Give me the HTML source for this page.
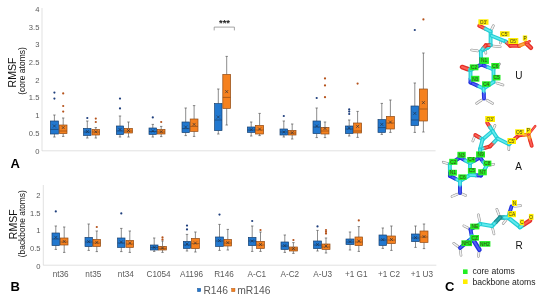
<!DOCTYPE html>
<html><head><meta charset="utf-8"><title>RMSF figure</title>
<style>html,body{margin:0;padding:0;background:#fff;}body{width:550px;height:300px;overflow:hidden;font-family:"Liberation Sans",sans-serif;}svg{display:block}</style>
</head><body>
<svg width="550" height="300" viewBox="0 0 550 300" font-family="Liberation Sans, Arial, sans-serif">
<rect width="550" height="300" fill="#fff"/>
<line x1="42" y1="8" x2="42" y2="151" stroke="#d9d9d9" stroke-width="0.8"/>
<line x1="42" y1="150.8" x2="435.6" y2="150.8" stroke="#d9d9d9" stroke-width="0.8"/>
<text x="39.4" y="153.5" font-size="7.6" fill="#595959" text-anchor="end">0</text>
<text x="39.4" y="135.8" font-size="7.6" fill="#595959" text-anchor="end">0.5</text>
<text x="39.4" y="118.1" font-size="7.6" fill="#595959" text-anchor="end">1</text>
<text x="39.4" y="100.4" font-size="7.6" fill="#595959" text-anchor="end">1.5</text>
<text x="39.4" y="82.7" font-size="7.6" fill="#595959" text-anchor="end">2</text>
<text x="39.4" y="65.0" font-size="7.6" fill="#595959" text-anchor="end">2.5</text>
<text x="39.4" y="47.3" font-size="7.6" fill="#595959" text-anchor="end">3</text>
<text x="39.4" y="29.6" font-size="7.6" fill="#595959" text-anchor="end">3.5</text>
<text x="39.4" y="11.9" font-size="7.6" fill="#595959" text-anchor="end">4</text>
<line x1="43.3" y1="185" x2="43.3" y2="265.3" stroke="#d9d9d9" stroke-width="0.8"/>
<line x1="43.3" y1="265.2" x2="436.3" y2="265.2" stroke="#d9d9d9" stroke-width="0.8"/>
<text x="40.6" y="268.7" font-size="7.6" fill="#595959" text-anchor="end">0</text>
<text x="40.6" y="251.0" font-size="7.6" fill="#595959" text-anchor="end">0.5</text>
<text x="40.6" y="233.3" font-size="7.6" fill="#595959" text-anchor="end">1</text>
<text x="40.6" y="215.6" font-size="7.6" fill="#595959" text-anchor="end">1.5</text>
<text x="40.6" y="197.9" font-size="7.6" fill="#595959" text-anchor="end">2</text>
<text transform="translate(16.3,72.5) rotate(-90)" font-size="10.5" fill="#111" text-anchor="middle">RMSF</text>
<text transform="translate(24.8,71) rotate(-90)" font-size="8.5" fill="#111" text-anchor="middle">(core atoms)</text>
<text transform="translate(16.5,224.3) rotate(-90)" font-size="10.5" fill="#111" text-anchor="middle">RMSF</text>
<text transform="translate(25.2,223.7) rotate(-90)" font-size="8.4" fill="#111" text-anchor="middle">(backbone atoms)</text>
<text x="10.6" y="168" font-size="13" font-weight="bold" fill="#000">A</text>
<text x="10.6" y="291" font-size="13" font-weight="bold" fill="#000">B</text>
<text x="445" y="291.4" font-size="13" font-weight="bold" fill="#000">C</text>
<path d="M214.2 30.4V27.1H234.4V30.4" fill="none" stroke="#7f7f7f" stroke-width="0.7"/>
<text x="224.5" y="26" font-size="9.5" font-weight="bold" fill="#222" text-anchor="middle">***</text>
<line x1="54.4" y1="115" x2="54.4" y2="121" stroke="#5a5a5a" stroke-width="0.7"/>
<line x1="54.4" y1="134" x2="54.4" y2="137" stroke="#5a5a5a" stroke-width="0.7"/>
<line x1="53.2" y1="115" x2="55.6" y2="115" stroke="#5a5a5a" stroke-width="0.7"/>
<line x1="53.2" y1="137" x2="55.6" y2="137" stroke="#5a5a5a" stroke-width="0.7"/>
<rect x="50.4" y="121" width="8.0" height="13.0" fill="#2278cf" stroke="#17406f" stroke-width="0.7"/>
<line x1="50.4" y1="129.4" x2="58.4" y2="129.4" stroke="#17406f" stroke-width="0.7"/>
<path d="M52.9 124.5L55.9 127.5M52.9 127.5L55.9 124.5" stroke="#1f2a3a" stroke-width="0.6" fill="none"/>
<circle cx="54.4" cy="92.6" r="1.1" fill="#1f3f7d"/>
<circle cx="54.4" cy="98.6" r="1.1" fill="#1f3f7d"/>
<line x1="63.2" y1="118" x2="63.2" y2="125" stroke="#5a5a5a" stroke-width="0.7"/>
<line x1="63.2" y1="133.6" x2="63.2" y2="136.4" stroke="#5a5a5a" stroke-width="0.7"/>
<line x1="62.0" y1="118" x2="64.4" y2="118" stroke="#5a5a5a" stroke-width="0.7"/>
<line x1="62.0" y1="136.4" x2="64.4" y2="136.4" stroke="#5a5a5a" stroke-width="0.7"/>
<rect x="59.4" y="125" width="7.6" height="8.6" fill="#f5811f" stroke="#8f4a16" stroke-width="0.7"/>
<line x1="59.4" y1="131" x2="67" y2="131" stroke="#8f4a16" stroke-width="0.7"/>
<path d="M61.7 126.1L64.7 129.1M61.7 129.1L64.7 126.1" stroke="#1f2a3a" stroke-width="0.6" fill="none"/>
<circle cx="63.2" cy="93.4" r="1.1" fill="#b5521b"/>
<circle cx="63.2" cy="106" r="1.1" fill="#b5521b"/>
<circle cx="63.2" cy="111.6" r="1.1" fill="#b5521b"/>
<line x1="87.3" y1="121" x2="87.3" y2="128.4" stroke="#5a5a5a" stroke-width="0.7"/>
<line x1="87.3" y1="135.4" x2="87.3" y2="138" stroke="#5a5a5a" stroke-width="0.7"/>
<line x1="86.1" y1="121" x2="88.5" y2="121" stroke="#5a5a5a" stroke-width="0.7"/>
<line x1="86.1" y1="138" x2="88.5" y2="138" stroke="#5a5a5a" stroke-width="0.7"/>
<rect x="83.6" y="128.4" width="7.4" height="7.0" fill="#2278cf" stroke="#17406f" stroke-width="0.7"/>
<line x1="83.6" y1="132" x2="91" y2="132" stroke="#17406f" stroke-width="0.7"/>
<path d="M85.8 130.0L88.8 133.0M85.8 133.0L88.8 130.0" stroke="#1f2a3a" stroke-width="0.6" fill="none"/>
<circle cx="87.3" cy="118" r="1.1" fill="#1f3f7d"/>
<line x1="95.8" y1="127.6" x2="95.8" y2="129.4" stroke="#5a5a5a" stroke-width="0.7"/>
<line x1="95.8" y1="135" x2="95.8" y2="138" stroke="#5a5a5a" stroke-width="0.7"/>
<line x1="94.6" y1="127.6" x2="97.0" y2="127.6" stroke="#5a5a5a" stroke-width="0.7"/>
<line x1="94.6" y1="138" x2="97.0" y2="138" stroke="#5a5a5a" stroke-width="0.7"/>
<rect x="92" y="129.4" width="7.6" height="5.6" fill="#f5811f" stroke="#8f4a16" stroke-width="0.7"/>
<line x1="92" y1="132" x2="99.6" y2="132" stroke="#8f4a16" stroke-width="0.7"/>
<path d="M94.3 130.3L97.3 133.3M94.3 133.3L97.3 130.3" stroke="#1f2a3a" stroke-width="0.6" fill="none"/>
<circle cx="95.8" cy="118.6" r="1.1" fill="#b5521b"/>
<circle cx="95.8" cy="122" r="1.1" fill="#b5521b"/>
<line x1="120.0" y1="116" x2="120.0" y2="126" stroke="#5a5a5a" stroke-width="0.7"/>
<line x1="120.0" y1="134.6" x2="120.0" y2="137" stroke="#5a5a5a" stroke-width="0.7"/>
<line x1="118.8" y1="116" x2="121.2" y2="116" stroke="#5a5a5a" stroke-width="0.7"/>
<line x1="118.8" y1="137" x2="121.2" y2="137" stroke="#5a5a5a" stroke-width="0.7"/>
<rect x="116.4" y="126" width="7.2" height="8.6" fill="#2278cf" stroke="#17406f" stroke-width="0.7"/>
<line x1="116.4" y1="131" x2="123.6" y2="131" stroke="#17406f" stroke-width="0.7"/>
<path d="M118.5 128.0L121.5 131.0M118.5 131.0L121.5 128.0" stroke="#1f2a3a" stroke-width="0.6" fill="none"/>
<circle cx="120.0" cy="98.6" r="1.1" fill="#1f3f7d"/>
<circle cx="120.0" cy="108.4" r="1.1" fill="#1f3f7d"/>
<line x1="128.5" y1="122" x2="128.5" y2="128.4" stroke="#5a5a5a" stroke-width="0.7"/>
<line x1="128.5" y1="133" x2="128.5" y2="137" stroke="#5a5a5a" stroke-width="0.7"/>
<line x1="127.3" y1="122" x2="129.7" y2="122" stroke="#5a5a5a" stroke-width="0.7"/>
<line x1="127.3" y1="137" x2="129.7" y2="137" stroke="#5a5a5a" stroke-width="0.7"/>
<rect x="124.6" y="128.4" width="7.8" height="4.6" fill="#f5811f" stroke="#8f4a16" stroke-width="0.7"/>
<line x1="124.6" y1="131" x2="132.4" y2="131" stroke="#8f4a16" stroke-width="0.7"/>
<path d="M127.0 129.0L130.0 132.0M127.0 132.0L130.0 129.0" stroke="#1f2a3a" stroke-width="0.6" fill="none"/>
<line x1="152.8" y1="124.4" x2="152.8" y2="128" stroke="#5a5a5a" stroke-width="0.7"/>
<line x1="152.8" y1="134.4" x2="152.8" y2="137" stroke="#5a5a5a" stroke-width="0.7"/>
<line x1="151.6" y1="124.4" x2="154.0" y2="124.4" stroke="#5a5a5a" stroke-width="0.7"/>
<line x1="151.6" y1="137" x2="154.0" y2="137" stroke="#5a5a5a" stroke-width="0.7"/>
<rect x="149" y="128" width="7.6" height="6.4" fill="#2278cf" stroke="#17406f" stroke-width="0.7"/>
<line x1="149" y1="131.5" x2="156.6" y2="131.5" stroke="#17406f" stroke-width="0.7"/>
<path d="M151.3 129.5L154.3 132.5M151.3 132.5L154.3 129.5" stroke="#1f2a3a" stroke-width="0.6" fill="none"/>
<circle cx="152.8" cy="117.4" r="1.1" fill="#1f3f7d"/>
<line x1="161.2" y1="126.4" x2="161.2" y2="129.4" stroke="#5a5a5a" stroke-width="0.7"/>
<line x1="161.2" y1="134" x2="161.2" y2="136.6" stroke="#5a5a5a" stroke-width="0.7"/>
<line x1="160.0" y1="126.4" x2="162.4" y2="126.4" stroke="#5a5a5a" stroke-width="0.7"/>
<line x1="160.0" y1="136.6" x2="162.4" y2="136.6" stroke="#5a5a5a" stroke-width="0.7"/>
<rect x="157.4" y="129.4" width="7.6" height="4.6" fill="#f5811f" stroke="#8f4a16" stroke-width="0.7"/>
<line x1="157.4" y1="132" x2="165" y2="132" stroke="#8f4a16" stroke-width="0.7"/>
<path d="M159.7 130.1L162.7 133.1M159.7 133.1L162.7 130.1" stroke="#1f2a3a" stroke-width="0.6" fill="none"/>
<circle cx="161.2" cy="122" r="1.1" fill="#b5521b"/>
<line x1="185.7" y1="108" x2="185.7" y2="122" stroke="#5a5a5a" stroke-width="0.7"/>
<line x1="185.7" y1="132.6" x2="185.7" y2="135.6" stroke="#5a5a5a" stroke-width="0.7"/>
<line x1="184.5" y1="108" x2="186.9" y2="108" stroke="#5a5a5a" stroke-width="0.7"/>
<line x1="184.5" y1="135.6" x2="186.9" y2="135.6" stroke="#5a5a5a" stroke-width="0.7"/>
<rect x="182" y="122" width="7.4" height="10.6" fill="#2278cf" stroke="#17406f" stroke-width="0.7"/>
<line x1="182" y1="128.6" x2="189.4" y2="128.6" stroke="#17406f" stroke-width="0.7"/>
<path d="M184.2 125.5L187.2 128.5M184.2 128.5L187.2 125.5" stroke="#1f2a3a" stroke-width="0.6" fill="none"/>
<line x1="194.1" y1="105.6" x2="194.1" y2="119" stroke="#5a5a5a" stroke-width="0.7"/>
<line x1="194.1" y1="131.4" x2="194.1" y2="136.4" stroke="#5a5a5a" stroke-width="0.7"/>
<line x1="192.9" y1="105.6" x2="195.3" y2="105.6" stroke="#5a5a5a" stroke-width="0.7"/>
<line x1="192.9" y1="136.4" x2="195.3" y2="136.4" stroke="#5a5a5a" stroke-width="0.7"/>
<rect x="190.2" y="119" width="7.8" height="12.4" fill="#f5811f" stroke="#8f4a16" stroke-width="0.7"/>
<line x1="190.2" y1="126.4" x2="198" y2="126.4" stroke="#8f4a16" stroke-width="0.7"/>
<path d="M192.6 122.9L195.6 125.9M192.6 125.9L195.6 122.9" stroke="#1f2a3a" stroke-width="0.6" fill="none"/>
<line x1="218.3" y1="89" x2="218.3" y2="103.6" stroke="#5a5a5a" stroke-width="0.7"/>
<line x1="218.3" y1="130.6" x2="218.3" y2="134" stroke="#5a5a5a" stroke-width="0.7"/>
<line x1="217.1" y1="89" x2="219.5" y2="89" stroke="#5a5a5a" stroke-width="0.7"/>
<line x1="217.1" y1="134" x2="219.5" y2="134" stroke="#5a5a5a" stroke-width="0.7"/>
<rect x="214.6" y="103.6" width="7.4" height="27.0" fill="#2278cf" stroke="#17406f" stroke-width="0.7"/>
<line x1="214.6" y1="120" x2="222" y2="120" stroke="#17406f" stroke-width="0.7"/>
<path d="M216.8 115.5L219.8 118.5M216.8 118.5L219.8 115.5" stroke="#1f2a3a" stroke-width="0.6" fill="none"/>
<line x1="226.7" y1="56.4" x2="226.7" y2="74.4" stroke="#5a5a5a" stroke-width="0.7"/>
<line x1="226.7" y1="108.4" x2="226.7" y2="125" stroke="#5a5a5a" stroke-width="0.7"/>
<line x1="225.5" y1="56.4" x2="227.9" y2="56.4" stroke="#5a5a5a" stroke-width="0.7"/>
<line x1="225.5" y1="125" x2="227.9" y2="125" stroke="#5a5a5a" stroke-width="0.7"/>
<rect x="222.8" y="74.4" width="7.8" height="34.0" fill="#f5811f" stroke="#8f4a16" stroke-width="0.7"/>
<line x1="222.8" y1="97.4" x2="230.6" y2="97.4" stroke="#8f4a16" stroke-width="0.7"/>
<path d="M225.2 90.1L228.2 93.1M225.2 93.1L228.2 90.1" stroke="#1f2a3a" stroke-width="0.6" fill="none"/>
<line x1="251.2" y1="122" x2="251.2" y2="127" stroke="#5a5a5a" stroke-width="0.7"/>
<line x1="251.2" y1="132.4" x2="251.2" y2="136" stroke="#5a5a5a" stroke-width="0.7"/>
<line x1="250.0" y1="122" x2="252.4" y2="122" stroke="#5a5a5a" stroke-width="0.7"/>
<line x1="250.0" y1="136" x2="252.4" y2="136" stroke="#5a5a5a" stroke-width="0.7"/>
<rect x="247.4" y="127" width="7.6" height="5.4" fill="#2278cf" stroke="#17406f" stroke-width="0.7"/>
<line x1="247.4" y1="130" x2="255" y2="130" stroke="#17406f" stroke-width="0.7"/>
<path d="M249.7 128.1L252.7 131.1M249.7 131.1L252.7 128.1" stroke="#1f2a3a" stroke-width="0.6" fill="none"/>
<line x1="259.6" y1="113.4" x2="259.6" y2="125.4" stroke="#5a5a5a" stroke-width="0.7"/>
<line x1="259.6" y1="134" x2="259.6" y2="135.6" stroke="#5a5a5a" stroke-width="0.7"/>
<line x1="258.4" y1="113.4" x2="260.8" y2="113.4" stroke="#5a5a5a" stroke-width="0.7"/>
<line x1="258.4" y1="135.6" x2="260.8" y2="135.6" stroke="#5a5a5a" stroke-width="0.7"/>
<rect x="255.6" y="125.4" width="8.0" height="8.6" fill="#f5811f" stroke="#8f4a16" stroke-width="0.7"/>
<line x1="255.6" y1="130" x2="263.6" y2="130" stroke="#8f4a16" stroke-width="0.7"/>
<path d="M258.1 127.5L261.1 130.5M258.1 130.5L261.1 127.5" stroke="#1f2a3a" stroke-width="0.6" fill="none"/>
<line x1="283.8" y1="121" x2="283.8" y2="129" stroke="#5a5a5a" stroke-width="0.7"/>
<line x1="283.8" y1="135" x2="283.8" y2="137" stroke="#5a5a5a" stroke-width="0.7"/>
<line x1="282.6" y1="121" x2="285.0" y2="121" stroke="#5a5a5a" stroke-width="0.7"/>
<line x1="282.6" y1="137" x2="285.0" y2="137" stroke="#5a5a5a" stroke-width="0.7"/>
<rect x="280" y="129" width="7.6" height="6.0" fill="#2278cf" stroke="#17406f" stroke-width="0.7"/>
<line x1="280" y1="132" x2="287.6" y2="132" stroke="#17406f" stroke-width="0.7"/>
<path d="M282.3 130.5L285.3 133.5M282.3 133.5L285.3 130.5" stroke="#1f2a3a" stroke-width="0.6" fill="none"/>
<circle cx="283.8" cy="116" r="1.1" fill="#1f3f7d"/>
<line x1="292.2" y1="124" x2="292.2" y2="130.4" stroke="#5a5a5a" stroke-width="0.7"/>
<line x1="292.2" y1="135" x2="292.2" y2="139" stroke="#5a5a5a" stroke-width="0.7"/>
<line x1="291.0" y1="124" x2="293.4" y2="124" stroke="#5a5a5a" stroke-width="0.7"/>
<line x1="291.0" y1="139" x2="293.4" y2="139" stroke="#5a5a5a" stroke-width="0.7"/>
<rect x="288.4" y="130.4" width="7.6" height="4.6" fill="#f5811f" stroke="#8f4a16" stroke-width="0.7"/>
<line x1="288.4" y1="133" x2="296" y2="133" stroke="#8f4a16" stroke-width="0.7"/>
<path d="M290.7 131.1L293.7 134.1M290.7 134.1L293.7 131.1" stroke="#1f2a3a" stroke-width="0.6" fill="none"/>
<line x1="316.7" y1="108" x2="316.7" y2="121" stroke="#5a5a5a" stroke-width="0.7"/>
<line x1="316.7" y1="133.6" x2="316.7" y2="137.6" stroke="#5a5a5a" stroke-width="0.7"/>
<line x1="315.5" y1="108" x2="317.9" y2="108" stroke="#5a5a5a" stroke-width="0.7"/>
<line x1="315.5" y1="137.6" x2="317.9" y2="137.6" stroke="#5a5a5a" stroke-width="0.7"/>
<rect x="313" y="121" width="7.4" height="12.6" fill="#2278cf" stroke="#17406f" stroke-width="0.7"/>
<line x1="313" y1="127" x2="320.4" y2="127" stroke="#17406f" stroke-width="0.7"/>
<path d="M315.2 124.5L318.2 127.5M315.2 127.5L318.2 124.5" stroke="#1f2a3a" stroke-width="0.6" fill="none"/>
<circle cx="316.7" cy="98" r="1.1" fill="#1f3f7d"/>
<line x1="325.0" y1="122" x2="325.0" y2="127.4" stroke="#5a5a5a" stroke-width="0.7"/>
<line x1="325.0" y1="134" x2="325.0" y2="137.6" stroke="#5a5a5a" stroke-width="0.7"/>
<line x1="323.8" y1="122" x2="326.2" y2="122" stroke="#5a5a5a" stroke-width="0.7"/>
<line x1="323.8" y1="137.6" x2="326.2" y2="137.6" stroke="#5a5a5a" stroke-width="0.7"/>
<rect x="321" y="127.4" width="8.0" height="6.6" fill="#f5811f" stroke="#8f4a16" stroke-width="0.7"/>
<line x1="321" y1="131" x2="329" y2="131" stroke="#8f4a16" stroke-width="0.7"/>
<path d="M323.5 127.0L326.5 130.0M323.5 130.0L326.5 127.0" stroke="#1f2a3a" stroke-width="0.6" fill="none"/>
<circle cx="325.0" cy="78.4" r="1.1" fill="#b5521b"/>
<circle cx="325.0" cy="85.4" r="1.1" fill="#b5521b"/>
<circle cx="325.0" cy="97.2" r="1.1" fill="#b5521b"/>
<line x1="349.2" y1="120" x2="349.2" y2="126" stroke="#5a5a5a" stroke-width="0.7"/>
<line x1="349.2" y1="133.6" x2="349.2" y2="136" stroke="#5a5a5a" stroke-width="0.7"/>
<line x1="348.0" y1="120" x2="350.4" y2="120" stroke="#5a5a5a" stroke-width="0.7"/>
<line x1="348.0" y1="136" x2="350.4" y2="136" stroke="#5a5a5a" stroke-width="0.7"/>
<rect x="345.4" y="126" width="7.6" height="7.6" fill="#2278cf" stroke="#17406f" stroke-width="0.7"/>
<line x1="345.4" y1="129" x2="353" y2="129" stroke="#17406f" stroke-width="0.7"/>
<path d="M347.7 126.5L350.7 129.5M347.7 129.5L350.7 126.5" stroke="#1f2a3a" stroke-width="0.6" fill="none"/>
<circle cx="349.2" cy="109.4" r="1.1" fill="#1f3f7d"/>
<circle cx="349.2" cy="111.6" r="1.1" fill="#1f3f7d"/>
<circle cx="349.2" cy="114" r="1.1" fill="#1f3f7d"/>
<line x1="357.6" y1="111.4" x2="357.6" y2="123" stroke="#5a5a5a" stroke-width="0.7"/>
<line x1="357.6" y1="133" x2="357.6" y2="137.4" stroke="#5a5a5a" stroke-width="0.7"/>
<line x1="356.4" y1="111.4" x2="358.8" y2="111.4" stroke="#5a5a5a" stroke-width="0.7"/>
<line x1="356.4" y1="137.4" x2="358.8" y2="137.4" stroke="#5a5a5a" stroke-width="0.7"/>
<rect x="353.6" y="123" width="8.0" height="10.0" fill="#f5811f" stroke="#8f4a16" stroke-width="0.7"/>
<line x1="353.6" y1="131" x2="361.6" y2="131" stroke="#8f4a16" stroke-width="0.7"/>
<path d="M356.1 124.9L359.1 127.9M356.1 127.9L359.1 124.9" stroke="#1f2a3a" stroke-width="0.6" fill="none"/>
<circle cx="357.6" cy="83.6" r="1.1" fill="#b5521b"/>
<line x1="381.8" y1="103.4" x2="381.8" y2="119.6" stroke="#5a5a5a" stroke-width="0.7"/>
<line x1="381.8" y1="132.4" x2="381.8" y2="134.4" stroke="#5a5a5a" stroke-width="0.7"/>
<line x1="380.6" y1="103.4" x2="383.0" y2="103.4" stroke="#5a5a5a" stroke-width="0.7"/>
<line x1="380.6" y1="134.4" x2="383.0" y2="134.4" stroke="#5a5a5a" stroke-width="0.7"/>
<rect x="378" y="119.6" width="7.6" height="12.8" fill="#2278cf" stroke="#17406f" stroke-width="0.7"/>
<line x1="378" y1="127.6" x2="385.6" y2="127.6" stroke="#17406f" stroke-width="0.7"/>
<path d="M380.3 122.9L383.3 125.9M380.3 125.9L383.3 122.9" stroke="#1f2a3a" stroke-width="0.6" fill="none"/>
<line x1="390.4" y1="100" x2="390.4" y2="116.4" stroke="#5a5a5a" stroke-width="0.7"/>
<line x1="390.4" y1="129" x2="390.4" y2="132.4" stroke="#5a5a5a" stroke-width="0.7"/>
<line x1="389.2" y1="100" x2="391.6" y2="100" stroke="#5a5a5a" stroke-width="0.7"/>
<line x1="389.2" y1="132.4" x2="391.6" y2="132.4" stroke="#5a5a5a" stroke-width="0.7"/>
<rect x="386.4" y="116.4" width="8.0" height="12.6" fill="#f5811f" stroke="#8f4a16" stroke-width="0.7"/>
<line x1="386.4" y1="123" x2="394.4" y2="123" stroke="#8f4a16" stroke-width="0.7"/>
<path d="M388.9 120.5L391.9 123.5M388.9 123.5L391.9 120.5" stroke="#1f2a3a" stroke-width="0.6" fill="none"/>
<line x1="414.8" y1="83" x2="414.8" y2="106" stroke="#5a5a5a" stroke-width="0.7"/>
<line x1="414.8" y1="125.6" x2="414.8" y2="132.4" stroke="#5a5a5a" stroke-width="0.7"/>
<line x1="413.6" y1="83" x2="416.0" y2="83" stroke="#5a5a5a" stroke-width="0.7"/>
<line x1="413.6" y1="132.4" x2="416.0" y2="132.4" stroke="#5a5a5a" stroke-width="0.7"/>
<rect x="411" y="106" width="7.6" height="19.6" fill="#2278cf" stroke="#17406f" stroke-width="0.7"/>
<line x1="411" y1="120" x2="418.6" y2="120" stroke="#17406f" stroke-width="0.7"/>
<path d="M413.3 111.9L416.3 114.9M413.3 114.9L416.3 111.9" stroke="#1f2a3a" stroke-width="0.6" fill="none"/>
<circle cx="414.8" cy="30" r="1.1" fill="#1f3f7d"/>
<line x1="423.4" y1="53" x2="423.4" y2="89" stroke="#5a5a5a" stroke-width="0.7"/>
<line x1="423.4" y1="121" x2="423.4" y2="132" stroke="#5a5a5a" stroke-width="0.7"/>
<line x1="422.2" y1="53" x2="424.6" y2="53" stroke="#5a5a5a" stroke-width="0.7"/>
<line x1="422.2" y1="132" x2="424.6" y2="132" stroke="#5a5a5a" stroke-width="0.7"/>
<rect x="419.4" y="89" width="8.0" height="32.0" fill="#f5811f" stroke="#8f4a16" stroke-width="0.7"/>
<line x1="419.4" y1="109" x2="427.4" y2="109" stroke="#8f4a16" stroke-width="0.7"/>
<path d="M421.9 101.1L424.9 104.1M421.9 104.1L424.9 101.1" stroke="#1f2a3a" stroke-width="0.6" fill="none"/>
<circle cx="423.4" cy="19.4" r="1.1" fill="#b5521b"/>
<line x1="55.8" y1="226" x2="55.8" y2="233" stroke="#5a5a5a" stroke-width="0.7"/>
<line x1="55.8" y1="245.6" x2="55.8" y2="249.4" stroke="#5a5a5a" stroke-width="0.7"/>
<line x1="54.6" y1="226" x2="57.0" y2="226" stroke="#5a5a5a" stroke-width="0.7"/>
<line x1="54.6" y1="249.4" x2="57.0" y2="249.4" stroke="#5a5a5a" stroke-width="0.7"/>
<rect x="52" y="233" width="7.6" height="12.6" fill="#2278cf" stroke="#17406f" stroke-width="0.7"/>
<line x1="52" y1="239" x2="59.6" y2="239" stroke="#17406f" stroke-width="0.7"/>
<path d="M54.3 235.9L57.3 238.9M54.3 238.9L57.3 235.9" stroke="#1f2a3a" stroke-width="0.6" fill="none"/>
<circle cx="55.8" cy="211.4" r="1.1" fill="#1f3f7d"/>
<line x1="64.2" y1="227" x2="64.2" y2="238" stroke="#5a5a5a" stroke-width="0.7"/>
<line x1="64.2" y1="245" x2="64.2" y2="252.4" stroke="#5a5a5a" stroke-width="0.7"/>
<line x1="63.0" y1="227" x2="65.4" y2="227" stroke="#5a5a5a" stroke-width="0.7"/>
<line x1="63.0" y1="252.4" x2="65.4" y2="252.4" stroke="#5a5a5a" stroke-width="0.7"/>
<rect x="60.4" y="238" width="7.6" height="7.0" fill="#f5811f" stroke="#8f4a16" stroke-width="0.7"/>
<line x1="60.4" y1="242" x2="68" y2="242" stroke="#8f4a16" stroke-width="0.7"/>
<path d="M62.7 239.9L65.7 242.9M62.7 242.9L65.7 239.9" stroke="#1f2a3a" stroke-width="0.6" fill="none"/>
<line x1="88.7" y1="224" x2="88.7" y2="237.4" stroke="#5a5a5a" stroke-width="0.7"/>
<line x1="88.7" y1="246.6" x2="88.7" y2="250.4" stroke="#5a5a5a" stroke-width="0.7"/>
<line x1="87.5" y1="224" x2="89.9" y2="224" stroke="#5a5a5a" stroke-width="0.7"/>
<line x1="87.5" y1="250.4" x2="89.9" y2="250.4" stroke="#5a5a5a" stroke-width="0.7"/>
<rect x="85" y="237.4" width="7.4" height="9.2" fill="#2278cf" stroke="#17406f" stroke-width="0.7"/>
<line x1="85" y1="242" x2="92.4" y2="242" stroke="#17406f" stroke-width="0.7"/>
<path d="M87.2 240.1L90.2 243.1M87.2 243.1L90.2 240.1" stroke="#1f2a3a" stroke-width="0.6" fill="none"/>
<line x1="96.8" y1="231" x2="96.8" y2="239.4" stroke="#5a5a5a" stroke-width="0.7"/>
<line x1="96.8" y1="246.4" x2="96.8" y2="251.6" stroke="#5a5a5a" stroke-width="0.7"/>
<line x1="95.6" y1="231" x2="98.0" y2="231" stroke="#5a5a5a" stroke-width="0.7"/>
<line x1="95.6" y1="251.6" x2="98.0" y2="251.6" stroke="#5a5a5a" stroke-width="0.7"/>
<rect x="93" y="239.4" width="7.6" height="7.0" fill="#f5811f" stroke="#8f4a16" stroke-width="0.7"/>
<line x1="93" y1="243" x2="100.6" y2="243" stroke="#8f4a16" stroke-width="0.7"/>
<path d="M95.3 240.9L98.3 243.9M95.3 243.9L98.3 240.9" stroke="#1f2a3a" stroke-width="0.6" fill="none"/>
<circle cx="96.8" cy="227" r="1.1" fill="#b5521b"/>
<line x1="121.3" y1="228.4" x2="121.3" y2="238" stroke="#5a5a5a" stroke-width="0.7"/>
<line x1="121.3" y1="247.4" x2="121.3" y2="251.6" stroke="#5a5a5a" stroke-width="0.7"/>
<line x1="120.1" y1="228.4" x2="122.5" y2="228.4" stroke="#5a5a5a" stroke-width="0.7"/>
<line x1="120.1" y1="251.6" x2="122.5" y2="251.6" stroke="#5a5a5a" stroke-width="0.7"/>
<rect x="117.6" y="238" width="7.4" height="9.4" fill="#2278cf" stroke="#17406f" stroke-width="0.7"/>
<line x1="117.6" y1="243" x2="125" y2="243" stroke="#17406f" stroke-width="0.7"/>
<path d="M119.8 240.5L122.8 243.5M119.8 243.5L122.8 240.5" stroke="#1f2a3a" stroke-width="0.6" fill="none"/>
<circle cx="121.3" cy="213.4" r="1.1" fill="#1f3f7d"/>
<line x1="129.8" y1="231" x2="129.8" y2="240.4" stroke="#5a5a5a" stroke-width="0.7"/>
<line x1="129.8" y1="247.4" x2="129.8" y2="252.4" stroke="#5a5a5a" stroke-width="0.7"/>
<line x1="128.6" y1="231" x2="131.0" y2="231" stroke="#5a5a5a" stroke-width="0.7"/>
<line x1="128.6" y1="252.4" x2="131.0" y2="252.4" stroke="#5a5a5a" stroke-width="0.7"/>
<rect x="126" y="240.4" width="7.6" height="7.0" fill="#f5811f" stroke="#8f4a16" stroke-width="0.7"/>
<line x1="126" y1="244" x2="133.6" y2="244" stroke="#8f4a16" stroke-width="0.7"/>
<path d="M128.3 241.5L131.3 244.5M128.3 244.5L131.3 241.5" stroke="#1f2a3a" stroke-width="0.6" fill="none"/>
<line x1="154.2" y1="238" x2="154.2" y2="245" stroke="#5a5a5a" stroke-width="0.7"/>
<line x1="154.2" y1="250" x2="154.2" y2="251.4" stroke="#5a5a5a" stroke-width="0.7"/>
<line x1="153.0" y1="238" x2="155.4" y2="238" stroke="#5a5a5a" stroke-width="0.7"/>
<line x1="153.0" y1="251.4" x2="155.4" y2="251.4" stroke="#5a5a5a" stroke-width="0.7"/>
<rect x="150.4" y="245" width="7.6" height="5.0" fill="#2278cf" stroke="#17406f" stroke-width="0.7"/>
<line x1="150.4" y1="247.6" x2="158" y2="247.6" stroke="#17406f" stroke-width="0.7"/>
<path d="M152.7 245.9L155.7 248.9M152.7 248.9L155.7 245.9" stroke="#1f2a3a" stroke-width="0.6" fill="none"/>
<line x1="162.5" y1="241" x2="162.5" y2="246.4" stroke="#5a5a5a" stroke-width="0.7"/>
<line x1="162.5" y1="250" x2="162.5" y2="252.4" stroke="#5a5a5a" stroke-width="0.7"/>
<line x1="161.3" y1="241" x2="163.7" y2="241" stroke="#5a5a5a" stroke-width="0.7"/>
<line x1="161.3" y1="252.4" x2="163.7" y2="252.4" stroke="#5a5a5a" stroke-width="0.7"/>
<rect x="158.6" y="246.4" width="7.8" height="3.6" fill="#f5811f" stroke="#8f4a16" stroke-width="0.7"/>
<line x1="158.6" y1="248.4" x2="166.4" y2="248.4" stroke="#8f4a16" stroke-width="0.7"/>
<path d="M161.0 246.5L164.0 249.5M161.0 249.5L164.0 246.5" stroke="#1f2a3a" stroke-width="0.6" fill="none"/>
<circle cx="162.5" cy="237.4" r="1.1" fill="#b5521b"/>
<circle cx="162.5" cy="239.6" r="1.1" fill="#b5521b"/>
<line x1="187.0" y1="234.4" x2="187.0" y2="241.4" stroke="#5a5a5a" stroke-width="0.7"/>
<line x1="187.0" y1="248.4" x2="187.0" y2="251" stroke="#5a5a5a" stroke-width="0.7"/>
<line x1="185.8" y1="234.4" x2="188.2" y2="234.4" stroke="#5a5a5a" stroke-width="0.7"/>
<line x1="185.8" y1="251" x2="188.2" y2="251" stroke="#5a5a5a" stroke-width="0.7"/>
<rect x="183.4" y="241.4" width="7.2" height="7.0" fill="#2278cf" stroke="#17406f" stroke-width="0.7"/>
<line x1="183.4" y1="245" x2="190.6" y2="245" stroke="#17406f" stroke-width="0.7"/>
<path d="M185.5 242.5L188.5 245.5M185.5 245.5L188.5 242.5" stroke="#1f2a3a" stroke-width="0.6" fill="none"/>
<circle cx="187.0" cy="225.6" r="1.1" fill="#1f3f7d"/>
<circle cx="187.0" cy="229.4" r="1.1" fill="#1f3f7d"/>
<line x1="195.4" y1="232" x2="195.4" y2="238.4" stroke="#5a5a5a" stroke-width="0.7"/>
<line x1="195.4" y1="248.6" x2="195.4" y2="252" stroke="#5a5a5a" stroke-width="0.7"/>
<line x1="194.2" y1="232" x2="196.6" y2="232" stroke="#5a5a5a" stroke-width="0.7"/>
<line x1="194.2" y1="252" x2="196.6" y2="252" stroke="#5a5a5a" stroke-width="0.7"/>
<rect x="191.4" y="238.4" width="8.0" height="10.2" fill="#f5811f" stroke="#8f4a16" stroke-width="0.7"/>
<line x1="191.4" y1="243.6" x2="199.4" y2="243.6" stroke="#8f4a16" stroke-width="0.7"/>
<path d="M193.9 241.5L196.9 244.5M193.9 244.5L196.9 241.5" stroke="#1f2a3a" stroke-width="0.6" fill="none"/>
<line x1="219.5" y1="224.4" x2="219.5" y2="237" stroke="#5a5a5a" stroke-width="0.7"/>
<line x1="219.5" y1="246.4" x2="219.5" y2="250.4" stroke="#5a5a5a" stroke-width="0.7"/>
<line x1="218.3" y1="224.4" x2="220.7" y2="224.4" stroke="#5a5a5a" stroke-width="0.7"/>
<line x1="218.3" y1="250.4" x2="220.7" y2="250.4" stroke="#5a5a5a" stroke-width="0.7"/>
<rect x="215.6" y="237" width="7.8" height="9.4" fill="#2278cf" stroke="#17406f" stroke-width="0.7"/>
<line x1="215.6" y1="241" x2="223.4" y2="241" stroke="#17406f" stroke-width="0.7"/>
<path d="M218.0 239.1L221.0 242.1M218.0 242.1L221.0 239.1" stroke="#1f2a3a" stroke-width="0.6" fill="none"/>
<circle cx="219.5" cy="214.6" r="1.1" fill="#1f3f7d"/>
<line x1="227.8" y1="229.4" x2="227.8" y2="239.4" stroke="#5a5a5a" stroke-width="0.7"/>
<line x1="227.8" y1="246" x2="227.8" y2="250" stroke="#5a5a5a" stroke-width="0.7"/>
<line x1="226.6" y1="229.4" x2="229.0" y2="229.4" stroke="#5a5a5a" stroke-width="0.7"/>
<line x1="226.6" y1="250" x2="229.0" y2="250" stroke="#5a5a5a" stroke-width="0.7"/>
<rect x="224" y="239.4" width="7.6" height="6.6" fill="#f5811f" stroke="#8f4a16" stroke-width="0.7"/>
<line x1="224" y1="243" x2="231.6" y2="243" stroke="#8f4a16" stroke-width="0.7"/>
<path d="M226.3 241.1L229.3 244.1M226.3 244.1L229.3 241.1" stroke="#1f2a3a" stroke-width="0.6" fill="none"/>
<line x1="252.2" y1="226" x2="252.2" y2="237.4" stroke="#5a5a5a" stroke-width="0.7"/>
<line x1="252.2" y1="245.6" x2="252.2" y2="251.4" stroke="#5a5a5a" stroke-width="0.7"/>
<line x1="251.0" y1="226" x2="253.4" y2="226" stroke="#5a5a5a" stroke-width="0.7"/>
<line x1="251.0" y1="251.4" x2="253.4" y2="251.4" stroke="#5a5a5a" stroke-width="0.7"/>
<rect x="248.4" y="237.4" width="7.6" height="8.2" fill="#2278cf" stroke="#17406f" stroke-width="0.7"/>
<line x1="248.4" y1="241" x2="256" y2="241" stroke="#17406f" stroke-width="0.7"/>
<path d="M250.7 239.5L253.7 242.5M250.7 242.5L253.7 239.5" stroke="#1f2a3a" stroke-width="0.6" fill="none"/>
<circle cx="252.2" cy="221" r="1.1" fill="#1f3f7d"/>
<line x1="260.5" y1="232" x2="260.5" y2="241.4" stroke="#5a5a5a" stroke-width="0.7"/>
<line x1="260.5" y1="248.4" x2="260.5" y2="251.4" stroke="#5a5a5a" stroke-width="0.7"/>
<line x1="259.3" y1="232" x2="261.7" y2="232" stroke="#5a5a5a" stroke-width="0.7"/>
<line x1="259.3" y1="251.4" x2="261.7" y2="251.4" stroke="#5a5a5a" stroke-width="0.7"/>
<rect x="256.6" y="241.4" width="7.8" height="7.0" fill="#f5811f" stroke="#8f4a16" stroke-width="0.7"/>
<line x1="256.6" y1="245" x2="264.4" y2="245" stroke="#8f4a16" stroke-width="0.7"/>
<path d="M259.0 242.9L262.0 245.9M259.0 245.9L262.0 242.9" stroke="#1f2a3a" stroke-width="0.6" fill="none"/>
<circle cx="260.5" cy="230" r="1.1" fill="#b5521b"/>
<line x1="284.8" y1="235" x2="284.8" y2="242" stroke="#5a5a5a" stroke-width="0.7"/>
<line x1="284.8" y1="249.4" x2="284.8" y2="252.4" stroke="#5a5a5a" stroke-width="0.7"/>
<line x1="283.6" y1="235" x2="286.0" y2="235" stroke="#5a5a5a" stroke-width="0.7"/>
<line x1="283.6" y1="252.4" x2="286.0" y2="252.4" stroke="#5a5a5a" stroke-width="0.7"/>
<rect x="281" y="242" width="7.6" height="7.4" fill="#2278cf" stroke="#17406f" stroke-width="0.7"/>
<line x1="281" y1="246" x2="288.6" y2="246" stroke="#17406f" stroke-width="0.7"/>
<path d="M283.3 244.1L286.3 247.1M283.3 247.1L286.3 244.1" stroke="#1f2a3a" stroke-width="0.6" fill="none"/>
<line x1="293.4" y1="242.6" x2="293.4" y2="247" stroke="#5a5a5a" stroke-width="0.7"/>
<line x1="293.4" y1="251" x2="293.4" y2="253.4" stroke="#5a5a5a" stroke-width="0.7"/>
<line x1="292.2" y1="242.6" x2="294.6" y2="242.6" stroke="#5a5a5a" stroke-width="0.7"/>
<line x1="292.2" y1="253.4" x2="294.6" y2="253.4" stroke="#5a5a5a" stroke-width="0.7"/>
<rect x="289.4" y="247" width="8.0" height="4.0" fill="#f5811f" stroke="#8f4a16" stroke-width="0.7"/>
<line x1="289.4" y1="249" x2="297.4" y2="249" stroke="#8f4a16" stroke-width="0.7"/>
<path d="M291.9 247.1L294.9 250.1M291.9 250.1L294.9 247.1" stroke="#1f2a3a" stroke-width="0.6" fill="none"/>
<circle cx="293.4" cy="240" r="1.1" fill="#b5521b"/>
<line x1="317.5" y1="230.4" x2="317.5" y2="241" stroke="#5a5a5a" stroke-width="0.7"/>
<line x1="317.5" y1="248.6" x2="317.5" y2="251" stroke="#5a5a5a" stroke-width="0.7"/>
<line x1="316.3" y1="230.4" x2="318.7" y2="230.4" stroke="#5a5a5a" stroke-width="0.7"/>
<line x1="316.3" y1="251" x2="318.7" y2="251" stroke="#5a5a5a" stroke-width="0.7"/>
<rect x="313.6" y="241" width="7.8" height="7.6" fill="#2278cf" stroke="#17406f" stroke-width="0.7"/>
<line x1="313.6" y1="245" x2="321.4" y2="245" stroke="#17406f" stroke-width="0.7"/>
<path d="M316.0 242.9L319.0 245.9M316.0 245.9L319.0 242.9" stroke="#1f2a3a" stroke-width="0.6" fill="none"/>
<circle cx="317.5" cy="226.4" r="1.1" fill="#1f3f7d"/>
<line x1="326.0" y1="238" x2="326.0" y2="244" stroke="#5a5a5a" stroke-width="0.7"/>
<line x1="326.0" y1="249.4" x2="326.0" y2="253" stroke="#5a5a5a" stroke-width="0.7"/>
<line x1="324.8" y1="238" x2="327.2" y2="238" stroke="#5a5a5a" stroke-width="0.7"/>
<line x1="324.8" y1="253" x2="327.2" y2="253" stroke="#5a5a5a" stroke-width="0.7"/>
<rect x="322" y="244" width="8.0" height="5.4" fill="#f5811f" stroke="#8f4a16" stroke-width="0.7"/>
<line x1="322" y1="247" x2="330" y2="247" stroke="#8f4a16" stroke-width="0.7"/>
<path d="M324.5 244.5L327.5 247.5M324.5 247.5L327.5 244.5" stroke="#1f2a3a" stroke-width="0.6" fill="none"/>
<circle cx="326.0" cy="230" r="1.1" fill="#b5521b"/>
<circle cx="326.0" cy="231.8" r="1.1" fill="#b5521b"/>
<circle cx="326.0" cy="233.6" r="1.1" fill="#b5521b"/>
<line x1="350.0" y1="232" x2="350.0" y2="239" stroke="#5a5a5a" stroke-width="0.7"/>
<line x1="350.0" y1="244.6" x2="350.0" y2="250" stroke="#5a5a5a" stroke-width="0.7"/>
<line x1="348.8" y1="232" x2="351.2" y2="232" stroke="#5a5a5a" stroke-width="0.7"/>
<line x1="348.8" y1="250" x2="351.2" y2="250" stroke="#5a5a5a" stroke-width="0.7"/>
<rect x="346" y="239" width="8.0" height="5.6" fill="#2278cf" stroke="#17406f" stroke-width="0.7"/>
<line x1="346" y1="242" x2="354" y2="242" stroke="#17406f" stroke-width="0.7"/>
<path d="M348.5 240.1L351.5 243.1M348.5 243.1L351.5 240.1" stroke="#1f2a3a" stroke-width="0.6" fill="none"/>
<line x1="358.8" y1="226.6" x2="358.8" y2="237" stroke="#5a5a5a" stroke-width="0.7"/>
<line x1="358.8" y1="245.6" x2="358.8" y2="251.4" stroke="#5a5a5a" stroke-width="0.7"/>
<line x1="357.6" y1="226.6" x2="360.0" y2="226.6" stroke="#5a5a5a" stroke-width="0.7"/>
<line x1="357.6" y1="251.4" x2="360.0" y2="251.4" stroke="#5a5a5a" stroke-width="0.7"/>
<rect x="355" y="237" width="7.6" height="8.6" fill="#f5811f" stroke="#8f4a16" stroke-width="0.7"/>
<line x1="355" y1="242" x2="362.6" y2="242" stroke="#8f4a16" stroke-width="0.7"/>
<path d="M357.3 239.5L360.3 242.5M357.3 242.5L360.3 239.5" stroke="#1f2a3a" stroke-width="0.6" fill="none"/>
<circle cx="358.8" cy="220.4" r="1.1" fill="#b5521b"/>
<line x1="382.8" y1="228" x2="382.8" y2="235" stroke="#5a5a5a" stroke-width="0.7"/>
<line x1="382.8" y1="245.4" x2="382.8" y2="248.4" stroke="#5a5a5a" stroke-width="0.7"/>
<line x1="381.6" y1="228" x2="384.0" y2="228" stroke="#5a5a5a" stroke-width="0.7"/>
<line x1="381.6" y1="248.4" x2="384.0" y2="248.4" stroke="#5a5a5a" stroke-width="0.7"/>
<rect x="379" y="235" width="7.6" height="10.4" fill="#2278cf" stroke="#17406f" stroke-width="0.7"/>
<line x1="379" y1="240" x2="386.6" y2="240" stroke="#17406f" stroke-width="0.7"/>
<path d="M381.3 238.1L384.3 241.1M381.3 241.1L384.3 238.1" stroke="#1f2a3a" stroke-width="0.6" fill="none"/>
<line x1="391.4" y1="226" x2="391.4" y2="236" stroke="#5a5a5a" stroke-width="0.7"/>
<line x1="391.4" y1="243.6" x2="391.4" y2="250.4" stroke="#5a5a5a" stroke-width="0.7"/>
<line x1="390.2" y1="226" x2="392.6" y2="226" stroke="#5a5a5a" stroke-width="0.7"/>
<line x1="390.2" y1="250.4" x2="392.6" y2="250.4" stroke="#5a5a5a" stroke-width="0.7"/>
<rect x="387.4" y="236" width="8.0" height="7.6" fill="#f5811f" stroke="#8f4a16" stroke-width="0.7"/>
<line x1="387.4" y1="240" x2="395.4" y2="240" stroke="#8f4a16" stroke-width="0.7"/>
<path d="M389.9 237.9L392.9 240.9M389.9 240.9L392.9 237.9" stroke="#1f2a3a" stroke-width="0.6" fill="none"/>
<line x1="415.5" y1="226" x2="415.5" y2="234" stroke="#5a5a5a" stroke-width="0.7"/>
<line x1="415.5" y1="241.6" x2="415.5" y2="247.4" stroke="#5a5a5a" stroke-width="0.7"/>
<line x1="414.3" y1="226" x2="416.7" y2="226" stroke="#5a5a5a" stroke-width="0.7"/>
<line x1="414.3" y1="247.4" x2="416.7" y2="247.4" stroke="#5a5a5a" stroke-width="0.7"/>
<rect x="411.6" y="234" width="7.8" height="7.6" fill="#2278cf" stroke="#17406f" stroke-width="0.7"/>
<line x1="411.6" y1="238" x2="419.4" y2="238" stroke="#17406f" stroke-width="0.7"/>
<path d="M414.0 236.1L417.0 239.1M414.0 239.1L417.0 236.1" stroke="#1f2a3a" stroke-width="0.6" fill="none"/>
<line x1="424.0" y1="224" x2="424.0" y2="231" stroke="#5a5a5a" stroke-width="0.7"/>
<line x1="424.0" y1="242.4" x2="424.0" y2="248.6" stroke="#5a5a5a" stroke-width="0.7"/>
<line x1="422.8" y1="224" x2="425.2" y2="224" stroke="#5a5a5a" stroke-width="0.7"/>
<line x1="422.8" y1="248.6" x2="425.2" y2="248.6" stroke="#5a5a5a" stroke-width="0.7"/>
<rect x="420" y="231" width="8.0" height="11.4" fill="#f5811f" stroke="#8f4a16" stroke-width="0.7"/>
<line x1="420" y1="237" x2="428" y2="237" stroke="#8f4a16" stroke-width="0.7"/>
<path d="M422.5 235.1L425.5 238.1M422.5 238.1L425.5 235.1" stroke="#1f2a3a" stroke-width="0.6" fill="none"/>
<text x="60.6" y="277.4" font-size="8.2" fill="#595959" text-anchor="middle">nt36</text>
<text x="93.3" y="277.4" font-size="8.2" fill="#595959" text-anchor="middle">nt35</text>
<text x="125.8" y="277.4" font-size="8.2" fill="#595959" text-anchor="middle">nt34</text>
<text x="158.6" y="277.4" font-size="8.2" fill="#595959" text-anchor="middle">C1054</text>
<text x="191.5" y="277.4" font-size="8.2" fill="#595959" text-anchor="middle">A1196</text>
<text x="224" y="277.4" font-size="8.2" fill="#595959" text-anchor="middle">R146</text>
<text x="256.8" y="277.4" font-size="8.2" fill="#595959" text-anchor="middle">A-C1</text>
<text x="289.8" y="277.4" font-size="8.2" fill="#595959" text-anchor="middle">A-C2</text>
<text x="322.7" y="277.4" font-size="8.2" fill="#595959" text-anchor="middle">A-U3</text>
<text x="356.2" y="277.4" font-size="8.2" fill="#595959" text-anchor="middle">+1 G1</text>
<text x="389" y="277.4" font-size="8.2" fill="#595959" text-anchor="middle">+1 C2</text>
<text x="421.9" y="277.4" font-size="8.2" fill="#595959" text-anchor="middle">+1 U3</text>
<rect x="197.4" y="288.3" width="3.4" height="3.4" fill="#2278cf" stroke="#1a4a86" stroke-width="0.4"/>
<text x="203.4" y="293.6" font-size="10.3" fill="#595959">R146</text>
<rect x="231.6" y="288.3" width="3.4" height="3.4" fill="#f5811f" stroke="#a3541a" stroke-width="0.4"/>
<text x="237.2" y="293.6" font-size="10.3" fill="#595959">mR146</text>
<defs><filter id="sb" x="-5%" y="-5%" width="110%" height="110%"><feGaussianBlur stdDeviation="0.35"/></filter></defs>
<g filter="url(#sb)">
<line x1="491.6" y1="29.4" x2="493.4" y2="25.6" stroke="#8c8c8c" stroke-width="2.6" stroke-linecap="round"/>
<line x1="491.6" y1="29.4" x2="493.4" y2="25.6" stroke="#f2f2f2" stroke-width="1.6" stroke-linecap="round"/>
<line x1="492.9" y1="46.0" x2="500.2" y2="46.8" stroke="#8c8c8c" stroke-width="2.6" stroke-linecap="round"/>
<line x1="492.9" y1="46.0" x2="500.2" y2="46.8" stroke="#f2f2f2" stroke-width="1.6" stroke-linecap="round"/>
<line x1="477.6" y1="50.9" x2="471.6" y2="50.0" stroke="#8c8c8c" stroke-width="2.6" stroke-linecap="round"/>
<line x1="477.6" y1="50.9" x2="471.6" y2="50.0" stroke="#f2f2f2" stroke-width="1.6" stroke-linecap="round"/>
<line x1="485.3" y1="49.5" x2="485.9" y2="53.2" stroke="#8c8c8c" stroke-width="2.6" stroke-linecap="round"/>
<line x1="485.3" y1="49.5" x2="485.9" y2="53.2" stroke="#f2f2f2" stroke-width="1.6" stroke-linecap="round"/>
<line x1="480.8" y1="51.4" x2="488.0" y2="47.6" stroke="#22cdd4" stroke-width="3.9" stroke-linecap="round"/>
<line x1="480.8" y1="51.4" x2="488.0" y2="47.6" stroke="#62eaee" stroke-width="1.638" stroke-linecap="round"/>
<line x1="488.0" y1="47.6" x2="490.6" y2="45.0" stroke="#22cdd4" stroke-width="3.9" stroke-linecap="round"/>
<line x1="488.0" y1="47.6" x2="490.6" y2="45.0" stroke="#62eaee" stroke-width="1.638" stroke-linecap="round"/>
<line x1="490.6" y1="31.5" x2="490.6" y2="45.0" stroke="#22cdd4" stroke-width="3.9" stroke-linecap="round"/>
<line x1="490.6" y1="31.5" x2="490.6" y2="45.0" stroke="#62eaee" stroke-width="1.638" stroke-linecap="round"/>
<line x1="479.2" y1="25.8" x2="484.9" y2="28.6" stroke="#e62e25" stroke-width="3.9" stroke-linecap="round"/>
<line x1="484.9" y1="28.6" x2="490.6" y2="31.5" stroke="#22cdd4" stroke-width="3.9" stroke-linecap="round"/>
<line x1="479.2" y1="25.8" x2="484.9" y2="28.6" stroke="#fb6257" stroke-width="1.638" stroke-linecap="round"/>
<line x1="484.9" y1="28.6" x2="490.6" y2="31.5" stroke="#62eaee" stroke-width="1.638" stroke-linecap="round"/>
<line x1="501.2" y1="40.7" x2="500.4" y2="43.0" stroke="#8c8c8c" stroke-width="2.6" stroke-linecap="round"/>
<line x1="501.2" y1="40.7" x2="500.4" y2="43.0" stroke="#f2f2f2" stroke-width="1.6" stroke-linecap="round"/>
<line x1="491.5" y1="35.8" x2="505.8" y2="41.6" stroke="#22cdd4" stroke-width="3.9" stroke-linecap="round"/>
<line x1="491.5" y1="35.8" x2="505.8" y2="41.6" stroke="#62eaee" stroke-width="1.638" stroke-linecap="round"/>
<line x1="505.8" y1="41.6" x2="507.1" y2="42.9" stroke="#22cdd4" stroke-width="3.9" stroke-linecap="round"/>
<line x1="507.1" y1="42.9" x2="510.2" y2="45.8" stroke="#e62e25" stroke-width="3.9" stroke-linecap="round"/>
<line x1="505.8" y1="41.6" x2="507.1" y2="42.9" stroke="#62eaee" stroke-width="1.638" stroke-linecap="round"/>
<line x1="507.1" y1="42.9" x2="510.2" y2="45.8" stroke="#fb6257" stroke-width="1.638" stroke-linecap="round"/>
<line x1="510.2" y1="45.8" x2="519.0" y2="45.9" stroke="#e62e25" stroke-width="3.9" stroke-linecap="round"/>
<line x1="510.2" y1="45.8" x2="519.0" y2="45.9" stroke="#fb6257" stroke-width="1.638" stroke-linecap="round"/>
<line x1="519.0" y1="45.9" x2="520.0" y2="45.5" stroke="#e62e25" stroke-width="3.9" stroke-linecap="round"/>
<line x1="520.0" y1="45.5" x2="525.8" y2="43.0" stroke="#f28a1a" stroke-width="3.9" stroke-linecap="round"/>
<line x1="519.0" y1="45.9" x2="520.0" y2="45.5" stroke="#fb6257" stroke-width="1.638" stroke-linecap="round"/>
<line x1="520.0" y1="45.5" x2="525.8" y2="43.0" stroke="#ffa947" stroke-width="1.638" stroke-linecap="round"/>
<line x1="525.8" y1="43.0" x2="527.4" y2="44.4" stroke="#f28a1a" stroke-width="4.4" stroke-linecap="round"/>
<line x1="527.4" y1="44.4" x2="531.0" y2="47.8" stroke="#e62e25" stroke-width="4.4" stroke-linecap="round"/>
<line x1="525.8" y1="43.0" x2="527.4" y2="44.4" stroke="#ffa947" stroke-width="1.848" stroke-linecap="round"/>
<line x1="527.4" y1="44.4" x2="531.0" y2="47.8" stroke="#fb6257" stroke-width="1.848" stroke-linecap="round"/>
<line x1="525.8" y1="43.0" x2="529.8" y2="41.2" stroke="#e62e25" stroke-width="2.4" stroke-linecap="round"/>
<line x1="525.8" y1="43.0" x2="529.8" y2="41.2" stroke="#fb6257" stroke-width="1.008" stroke-linecap="round"/>
<line x1="490.6" y1="45.0" x2="489.2" y2="45.1" stroke="#22cdd4" stroke-width="3.9" stroke-linecap="round"/>
<line x1="489.2" y1="45.1" x2="485.8" y2="45.3" stroke="#e62e25" stroke-width="3.9" stroke-linecap="round"/>
<line x1="490.6" y1="45.0" x2="489.2" y2="45.1" stroke="#62eaee" stroke-width="1.638" stroke-linecap="round"/>
<line x1="489.2" y1="45.1" x2="485.8" y2="45.3" stroke="#fb6257" stroke-width="1.638" stroke-linecap="round"/>
<line x1="485.8" y1="45.3" x2="483.3" y2="48.3" stroke="#e62e25" stroke-width="3.9" stroke-linecap="round"/>
<line x1="483.3" y1="48.3" x2="480.8" y2="51.4" stroke="#22cdd4" stroke-width="3.9" stroke-linecap="round"/>
<line x1="485.8" y1="45.3" x2="483.3" y2="48.3" stroke="#fb6257" stroke-width="1.638" stroke-linecap="round"/>
<line x1="483.3" y1="48.3" x2="480.8" y2="51.4" stroke="#62eaee" stroke-width="1.638" stroke-linecap="round"/>
<line x1="480.8" y1="51.4" x2="481.0" y2="58.6" stroke="#22cdd4" stroke-width="3.9" stroke-linecap="round"/>
<line x1="481.0" y1="58.6" x2="481.2" y2="64.5" stroke="#2230dd" stroke-width="3.9" stroke-linecap="round"/>
<line x1="480.8" y1="51.4" x2="481.0" y2="58.6" stroke="#62eaee" stroke-width="1.638" stroke-linecap="round"/>
<line x1="481.0" y1="58.6" x2="481.2" y2="64.5" stroke="#5060f5" stroke-width="1.638" stroke-linecap="round"/>
<line x1="496.8" y1="83.0" x2="503.0" y2="85.0" stroke="#8c8c8c" stroke-width="2.6" stroke-linecap="round"/>
<line x1="496.8" y1="83.0" x2="503.0" y2="85.0" stroke="#f2f2f2" stroke-width="1.6" stroke-linecap="round"/>
<line x1="495.6" y1="67.6" x2="499.5" y2="64.0" stroke="#8c8c8c" stroke-width="2.6" stroke-linecap="round"/>
<line x1="495.6" y1="67.6" x2="499.5" y2="64.0" stroke="#f2f2f2" stroke-width="1.6" stroke-linecap="round"/>
<line x1="470.5" y1="70.0" x2="467.5" y2="69.0" stroke="#22cdd4" stroke-width="4.6" stroke-linecap="round"/>
<line x1="467.5" y1="69.0" x2="462.0" y2="67.0" stroke="#e62e25" stroke-width="4.6" stroke-linecap="round"/>
<line x1="470.5" y1="70.0" x2="467.5" y2="69.0" stroke="#62eaee" stroke-width="1.9319999999999997" stroke-linecap="round"/>
<line x1="467.5" y1="69.0" x2="462.0" y2="67.0" stroke="#fb6257" stroke-width="1.9319999999999997" stroke-linecap="round"/>
<line x1="481.2" y1="64.5" x2="487.4" y2="67.0" stroke="#2230dd" stroke-width="3.9" stroke-linecap="round"/>
<line x1="487.4" y1="67.0" x2="493.5" y2="69.5" stroke="#22cdd4" stroke-width="3.9" stroke-linecap="round"/>
<line x1="481.2" y1="64.5" x2="487.4" y2="67.0" stroke="#5060f5" stroke-width="1.638" stroke-linecap="round"/>
<line x1="487.4" y1="67.0" x2="493.5" y2="69.5" stroke="#62eaee" stroke-width="1.638" stroke-linecap="round"/>
<line x1="493.5" y1="69.5" x2="493.5" y2="82.0" stroke="#22cdd4" stroke-width="3.9" stroke-linecap="round"/>
<line x1="493.5" y1="69.5" x2="493.5" y2="82.0" stroke="#62eaee" stroke-width="1.638" stroke-linecap="round"/>
<line x1="493.5" y1="82.0" x2="483.5" y2="88.5" stroke="#22cdd4" stroke-width="3.9" stroke-linecap="round"/>
<line x1="493.5" y1="82.0" x2="483.5" y2="88.5" stroke="#62eaee" stroke-width="1.638" stroke-linecap="round"/>
<line x1="483.5" y1="88.5" x2="477.0" y2="85.5" stroke="#22cdd4" stroke-width="3.9" stroke-linecap="round"/>
<line x1="477.0" y1="85.5" x2="470.5" y2="82.5" stroke="#2230dd" stroke-width="3.9" stroke-linecap="round"/>
<line x1="483.5" y1="88.5" x2="477.0" y2="85.5" stroke="#62eaee" stroke-width="1.638" stroke-linecap="round"/>
<line x1="477.0" y1="85.5" x2="470.5" y2="82.5" stroke="#5060f5" stroke-width="1.638" stroke-linecap="round"/>
<line x1="470.5" y1="82.5" x2="470.5" y2="78.8" stroke="#2230dd" stroke-width="3.9" stroke-linecap="round"/>
<line x1="470.5" y1="78.8" x2="470.5" y2="70.0" stroke="#22cdd4" stroke-width="3.9" stroke-linecap="round"/>
<line x1="470.5" y1="82.5" x2="470.5" y2="78.8" stroke="#5060f5" stroke-width="1.638" stroke-linecap="round"/>
<line x1="470.5" y1="78.8" x2="470.5" y2="70.0" stroke="#62eaee" stroke-width="1.638" stroke-linecap="round"/>
<line x1="470.5" y1="70.0" x2="475.9" y2="67.2" stroke="#22cdd4" stroke-width="3.9" stroke-linecap="round"/>
<line x1="475.9" y1="67.2" x2="481.2" y2="64.5" stroke="#2230dd" stroke-width="3.9" stroke-linecap="round"/>
<line x1="470.5" y1="70.0" x2="475.9" y2="67.2" stroke="#62eaee" stroke-width="1.638" stroke-linecap="round"/>
<line x1="475.9" y1="67.2" x2="481.2" y2="64.5" stroke="#5060f5" stroke-width="1.638" stroke-linecap="round"/>
<line x1="481.4" y1="100.2" x2="476.6" y2="103.4" stroke="#8c8c8c" stroke-width="2.6" stroke-linecap="round"/>
<line x1="481.4" y1="100.2" x2="476.6" y2="103.4" stroke="#f2f2f2" stroke-width="1.6" stroke-linecap="round"/>
<line x1="487.0" y1="100.2" x2="492.6" y2="103.4" stroke="#8c8c8c" stroke-width="2.6" stroke-linecap="round"/>
<line x1="487.0" y1="100.2" x2="492.6" y2="103.4" stroke="#f2f2f2" stroke-width="1.6" stroke-linecap="round"/>
<line x1="483.5" y1="88.5" x2="483.8" y2="93.5" stroke="#22cdd4" stroke-width="3.9" stroke-linecap="round"/>
<line x1="483.8" y1="93.5" x2="484.0" y2="98.5" stroke="#2230dd" stroke-width="3.9" stroke-linecap="round"/>
<line x1="483.5" y1="88.5" x2="483.8" y2="93.5" stroke="#62eaee" stroke-width="1.638" stroke-linecap="round"/>
<line x1="483.8" y1="93.5" x2="484.0" y2="98.5" stroke="#5060f5" stroke-width="1.638" stroke-linecap="round"/>
<line x1="493.4" y1="129.0" x2="495.0" y2="125.4" stroke="#8c8c8c" stroke-width="2.6" stroke-linecap="round"/>
<line x1="493.4" y1="129.0" x2="495.0" y2="125.4" stroke="#f2f2f2" stroke-width="1.6" stroke-linecap="round"/>
<line x1="508.9" y1="146.1" x2="508.8" y2="149.6" stroke="#8c8c8c" stroke-width="2.6" stroke-linecap="round"/>
<line x1="508.9" y1="146.1" x2="508.8" y2="149.6" stroke="#f2f2f2" stroke-width="1.6" stroke-linecap="round"/>
<line x1="474.4" y1="137.1" x2="472.8" y2="141.0" stroke="#8c8c8c" stroke-width="2.6" stroke-linecap="round"/>
<line x1="474.4" y1="137.1" x2="472.8" y2="141.0" stroke="#f2f2f2" stroke-width="1.6" stroke-linecap="round"/>
<line x1="480.0" y1="149.2" x2="485.0" y2="147.8" stroke="#22cdd4" stroke-width="3.9" stroke-linecap="round"/>
<line x1="485.0" y1="147.8" x2="490.0" y2="146.4" stroke="#e62e25" stroke-width="3.9" stroke-linecap="round"/>
<line x1="480.0" y1="149.2" x2="485.0" y2="147.8" stroke="#62eaee" stroke-width="1.638" stroke-linecap="round"/>
<line x1="485.0" y1="147.8" x2="490.0" y2="146.4" stroke="#fb6257" stroke-width="1.638" stroke-linecap="round"/>
<line x1="490.0" y1="146.4" x2="493.8" y2="142.5" stroke="#e62e25" stroke-width="3.9" stroke-linecap="round"/>
<line x1="493.8" y1="142.5" x2="497.5" y2="138.6" stroke="#22cdd4" stroke-width="3.9" stroke-linecap="round"/>
<line x1="490.0" y1="146.4" x2="493.8" y2="142.5" stroke="#fb6257" stroke-width="1.638" stroke-linecap="round"/>
<line x1="493.8" y1="142.5" x2="497.5" y2="138.6" stroke="#62eaee" stroke-width="1.638" stroke-linecap="round"/>
<line x1="482.6" y1="139.4" x2="479.0" y2="137.2" stroke="#22cdd4" stroke-width="3.9" stroke-linecap="round"/>
<line x1="479.0" y1="137.2" x2="475.3" y2="135.0" stroke="#e62e25" stroke-width="3.9" stroke-linecap="round"/>
<line x1="482.6" y1="139.4" x2="479.0" y2="137.2" stroke="#62eaee" stroke-width="1.638" stroke-linecap="round"/>
<line x1="479.0" y1="137.2" x2="475.3" y2="135.0" stroke="#fb6257" stroke-width="1.638" stroke-linecap="round"/>
<line x1="492.6" y1="131.0" x2="482.6" y2="139.4" stroke="#22cdd4" stroke-width="3.9" stroke-linecap="round"/>
<line x1="492.6" y1="131.0" x2="482.6" y2="139.4" stroke="#62eaee" stroke-width="1.638" stroke-linecap="round"/>
<line x1="482.6" y1="139.4" x2="480.0" y2="149.2" stroke="#22cdd4" stroke-width="3.9" stroke-linecap="round"/>
<line x1="482.6" y1="139.4" x2="480.0" y2="149.2" stroke="#62eaee" stroke-width="1.638" stroke-linecap="round"/>
<line x1="487.2" y1="122.8" x2="489.9" y2="126.9" stroke="#e62e25" stroke-width="3.9" stroke-linecap="round"/>
<line x1="489.9" y1="126.9" x2="492.6" y2="131.0" stroke="#22cdd4" stroke-width="3.9" stroke-linecap="round"/>
<line x1="487.2" y1="122.8" x2="489.9" y2="126.9" stroke="#fb6257" stroke-width="1.638" stroke-linecap="round"/>
<line x1="489.9" y1="126.9" x2="492.6" y2="131.0" stroke="#62eaee" stroke-width="1.638" stroke-linecap="round"/>
<line x1="492.6" y1="131.0" x2="497.5" y2="138.6" stroke="#22cdd4" stroke-width="3.9" stroke-linecap="round"/>
<line x1="492.6" y1="131.0" x2="497.5" y2="138.6" stroke="#62eaee" stroke-width="1.638" stroke-linecap="round"/>
<line x1="497.5" y1="138.6" x2="509.0" y2="144.2" stroke="#22cdd4" stroke-width="3.9" stroke-linecap="round"/>
<line x1="497.5" y1="138.6" x2="509.0" y2="144.2" stroke="#62eaee" stroke-width="1.638" stroke-linecap="round"/>
<line x1="509.0" y1="144.2" x2="513.9" y2="139.7" stroke="#22cdd4" stroke-width="3.9" stroke-linecap="round"/>
<line x1="513.9" y1="139.7" x2="518.8" y2="135.2" stroke="#e62e25" stroke-width="3.9" stroke-linecap="round"/>
<line x1="509.0" y1="144.2" x2="513.9" y2="139.7" stroke="#62eaee" stroke-width="1.638" stroke-linecap="round"/>
<line x1="513.9" y1="139.7" x2="518.8" y2="135.2" stroke="#fb6257" stroke-width="1.638" stroke-linecap="round"/>
<line x1="518.8" y1="135.2" x2="523.6" y2="134.9" stroke="#e62e25" stroke-width="3.9" stroke-linecap="round"/>
<line x1="523.6" y1="134.9" x2="528.5" y2="134.6" stroke="#f28a1a" stroke-width="3.9" stroke-linecap="round"/>
<line x1="518.8" y1="135.2" x2="523.6" y2="134.9" stroke="#fb6257" stroke-width="1.638" stroke-linecap="round"/>
<line x1="523.6" y1="134.9" x2="528.5" y2="134.6" stroke="#ffa947" stroke-width="1.638" stroke-linecap="round"/>
<line x1="528.5" y1="134.6" x2="530.1" y2="140.2" stroke="#f28a1a" stroke-width="3.9" stroke-linecap="round"/>
<line x1="530.1" y1="140.2" x2="531.7" y2="145.8" stroke="#e62e25" stroke-width="3.9" stroke-linecap="round"/>
<line x1="528.5" y1="134.6" x2="530.1" y2="140.2" stroke="#ffa947" stroke-width="1.638" stroke-linecap="round"/>
<line x1="530.1" y1="140.2" x2="531.7" y2="145.8" stroke="#fb6257" stroke-width="1.638" stroke-linecap="round"/>
<line x1="528.5" y1="134.6" x2="535.3" y2="126.1" stroke="#e62e25" stroke-width="2.4" stroke-linecap="round"/>
<line x1="528.5" y1="134.6" x2="535.3" y2="126.1" stroke="#fb6257" stroke-width="1.008" stroke-linecap="round"/>
<line x1="480.0" y1="149.2" x2="480.1" y2="153.3" stroke="#22cdd4" stroke-width="3.9" stroke-linecap="round"/>
<line x1="480.1" y1="153.3" x2="480.3" y2="157.5" stroke="#2230dd" stroke-width="3.9" stroke-linecap="round"/>
<line x1="480.0" y1="149.2" x2="480.1" y2="153.3" stroke="#62eaee" stroke-width="1.638" stroke-linecap="round"/>
<line x1="480.1" y1="153.3" x2="480.3" y2="157.5" stroke="#5060f5" stroke-width="1.638" stroke-linecap="round"/>
<line x1="447.5" y1="163.5" x2="443.2" y2="162.2" stroke="#8c8c8c" stroke-width="2.6" stroke-linecap="round"/>
<line x1="447.5" y1="163.5" x2="443.2" y2="162.2" stroke="#f2f2f2" stroke-width="1.6" stroke-linecap="round"/>
<line x1="489.1" y1="165.4" x2="493.8" y2="164.3" stroke="#8c8c8c" stroke-width="2.6" stroke-linecap="round"/>
<line x1="489.1" y1="165.4" x2="493.8" y2="164.3" stroke="#f2f2f2" stroke-width="1.6" stroke-linecap="round"/>
<line x1="449.8" y1="164.2" x2="454.9" y2="160.8" stroke="#22cdd4" stroke-width="3.9" stroke-linecap="round"/>
<line x1="454.9" y1="160.8" x2="460.0" y2="157.5" stroke="#2230dd" stroke-width="3.9" stroke-linecap="round"/>
<line x1="449.8" y1="164.2" x2="454.9" y2="160.8" stroke="#62eaee" stroke-width="1.638" stroke-linecap="round"/>
<line x1="454.9" y1="160.8" x2="460.0" y2="157.5" stroke="#5060f5" stroke-width="1.638" stroke-linecap="round"/>
<line x1="460.0" y1="157.5" x2="465.0" y2="160.2" stroke="#2230dd" stroke-width="3.9" stroke-linecap="round"/>
<line x1="465.0" y1="160.2" x2="470.0" y2="163.0" stroke="#22cdd4" stroke-width="3.9" stroke-linecap="round"/>
<line x1="460.0" y1="157.5" x2="465.0" y2="160.2" stroke="#5060f5" stroke-width="1.638" stroke-linecap="round"/>
<line x1="465.0" y1="160.2" x2="470.0" y2="163.0" stroke="#62eaee" stroke-width="1.638" stroke-linecap="round"/>
<line x1="470.0" y1="163.0" x2="470.0" y2="175.0" stroke="#22cdd4" stroke-width="3.9" stroke-linecap="round"/>
<line x1="470.0" y1="163.0" x2="470.0" y2="175.0" stroke="#62eaee" stroke-width="1.638" stroke-linecap="round"/>
<line x1="470.0" y1="175.0" x2="460.0" y2="181.0" stroke="#22cdd4" stroke-width="3.9" stroke-linecap="round"/>
<line x1="470.0" y1="175.0" x2="460.0" y2="181.0" stroke="#62eaee" stroke-width="1.638" stroke-linecap="round"/>
<line x1="460.0" y1="181.0" x2="455.0" y2="178.5" stroke="#22cdd4" stroke-width="3.9" stroke-linecap="round"/>
<line x1="455.0" y1="178.5" x2="450.0" y2="176.0" stroke="#2230dd" stroke-width="3.9" stroke-linecap="round"/>
<line x1="460.0" y1="181.0" x2="455.0" y2="178.5" stroke="#62eaee" stroke-width="1.638" stroke-linecap="round"/>
<line x1="455.0" y1="178.5" x2="450.0" y2="176.0" stroke="#5060f5" stroke-width="1.638" stroke-linecap="round"/>
<line x1="450.0" y1="176.0" x2="449.9" y2="170.1" stroke="#2230dd" stroke-width="3.9" stroke-linecap="round"/>
<line x1="449.9" y1="170.1" x2="449.8" y2="164.2" stroke="#22cdd4" stroke-width="3.9" stroke-linecap="round"/>
<line x1="450.0" y1="176.0" x2="449.9" y2="170.1" stroke="#5060f5" stroke-width="1.638" stroke-linecap="round"/>
<line x1="449.9" y1="170.1" x2="449.8" y2="164.2" stroke="#62eaee" stroke-width="1.638" stroke-linecap="round"/>
<line x1="470.0" y1="163.0" x2="475.0" y2="160.2" stroke="#22cdd4" stroke-width="3.9" stroke-linecap="round"/>
<line x1="475.0" y1="160.2" x2="480.0" y2="157.5" stroke="#2230dd" stroke-width="3.9" stroke-linecap="round"/>
<line x1="470.0" y1="163.0" x2="475.0" y2="160.2" stroke="#62eaee" stroke-width="1.638" stroke-linecap="round"/>
<line x1="475.0" y1="160.2" x2="480.0" y2="157.5" stroke="#5060f5" stroke-width="1.638" stroke-linecap="round"/>
<line x1="480.0" y1="157.5" x2="483.2" y2="161.8" stroke="#2230dd" stroke-width="3.9" stroke-linecap="round"/>
<line x1="483.2" y1="161.8" x2="486.5" y2="166.0" stroke="#22cdd4" stroke-width="3.9" stroke-linecap="round"/>
<line x1="480.0" y1="157.5" x2="483.2" y2="161.8" stroke="#5060f5" stroke-width="1.638" stroke-linecap="round"/>
<line x1="483.2" y1="161.8" x2="486.5" y2="166.0" stroke="#62eaee" stroke-width="1.638" stroke-linecap="round"/>
<line x1="486.5" y1="166.0" x2="483.8" y2="170.8" stroke="#22cdd4" stroke-width="3.9" stroke-linecap="round"/>
<line x1="483.8" y1="170.8" x2="481.0" y2="175.5" stroke="#2230dd" stroke-width="3.9" stroke-linecap="round"/>
<line x1="486.5" y1="166.0" x2="483.8" y2="170.8" stroke="#62eaee" stroke-width="1.638" stroke-linecap="round"/>
<line x1="483.8" y1="170.8" x2="481.0" y2="175.5" stroke="#5060f5" stroke-width="1.638" stroke-linecap="round"/>
<line x1="481.0" y1="175.5" x2="475.5" y2="175.2" stroke="#2230dd" stroke-width="3.9" stroke-linecap="round"/>
<line x1="475.5" y1="175.2" x2="470.0" y2="175.0" stroke="#22cdd4" stroke-width="3.9" stroke-linecap="round"/>
<line x1="481.0" y1="175.5" x2="475.5" y2="175.2" stroke="#5060f5" stroke-width="1.638" stroke-linecap="round"/>
<line x1="475.5" y1="175.2" x2="470.0" y2="175.0" stroke="#62eaee" stroke-width="1.638" stroke-linecap="round"/>
<line x1="457.2" y1="194.2" x2="452.0" y2="196.4" stroke="#8c8c8c" stroke-width="2.6" stroke-linecap="round"/>
<line x1="457.2" y1="194.2" x2="452.0" y2="196.4" stroke="#f2f2f2" stroke-width="1.6" stroke-linecap="round"/>
<line x1="462.0" y1="193.9" x2="465.7" y2="195.5" stroke="#8c8c8c" stroke-width="2.6" stroke-linecap="round"/>
<line x1="462.0" y1="193.9" x2="465.7" y2="195.5" stroke="#f2f2f2" stroke-width="1.6" stroke-linecap="round"/>
<line x1="460.0" y1="181.0" x2="460.0" y2="187.0" stroke="#22cdd4" stroke-width="3.9" stroke-linecap="round"/>
<line x1="460.0" y1="187.0" x2="460.0" y2="193.0" stroke="#2230dd" stroke-width="3.9" stroke-linecap="round"/>
<line x1="460.0" y1="181.0" x2="460.0" y2="187.0" stroke="#62eaee" stroke-width="1.638" stroke-linecap="round"/>
<line x1="460.0" y1="187.0" x2="460.0" y2="193.0" stroke="#5060f5" stroke-width="1.638" stroke-linecap="round"/>
<line x1="514.7" y1="206.2" x2="520.6" y2="205.6" stroke="#8c8c8c" stroke-width="2.6" stroke-linecap="round"/>
<line x1="514.7" y1="206.2" x2="520.6" y2="205.6" stroke="#f2f2f2" stroke-width="1.6" stroke-linecap="round"/>
<line x1="479.6" y1="220.8" x2="478.4" y2="214.8" stroke="#8c8c8c" stroke-width="2.6" stroke-linecap="round"/>
<line x1="479.6" y1="220.8" x2="478.4" y2="214.8" stroke="#f2f2f2" stroke-width="1.6" stroke-linecap="round"/>
<line x1="492.7" y1="228.8" x2="494.0" y2="234.0" stroke="#8c8c8c" stroke-width="2.6" stroke-linecap="round"/>
<line x1="492.7" y1="228.8" x2="494.0" y2="234.0" stroke="#f2f2f2" stroke-width="1.6" stroke-linecap="round"/>
<line x1="498.9" y1="214.6" x2="496.8" y2="209.3" stroke="#8c8c8c" stroke-width="2.6" stroke-linecap="round"/>
<line x1="498.9" y1="214.6" x2="496.8" y2="209.3" stroke="#f2f2f2" stroke-width="1.6" stroke-linecap="round"/>
<line x1="506.3" y1="219.6" x2="503.2" y2="223.5" stroke="#8c8c8c" stroke-width="2.6" stroke-linecap="round"/>
<line x1="506.3" y1="219.6" x2="503.2" y2="223.5" stroke="#f2f2f2" stroke-width="1.6" stroke-linecap="round"/>
<line x1="468.2" y1="228.1" x2="463.8" y2="225.8" stroke="#8c8c8c" stroke-width="2.6" stroke-linecap="round"/>
<line x1="468.2" y1="228.1" x2="463.8" y2="225.8" stroke="#f2f2f2" stroke-width="1.6" stroke-linecap="round"/>
<line x1="457.8" y1="246.4" x2="453.7" y2="243.3" stroke="#8c8c8c" stroke-width="2.6" stroke-linecap="round"/>
<line x1="457.8" y1="246.4" x2="453.7" y2="243.3" stroke="#f2f2f2" stroke-width="1.6" stroke-linecap="round"/>
<line x1="460.4" y1="250.6" x2="461.0" y2="255.3" stroke="#8c8c8c" stroke-width="2.6" stroke-linecap="round"/>
<line x1="460.4" y1="250.6" x2="461.0" y2="255.3" stroke="#f2f2f2" stroke-width="1.6" stroke-linecap="round"/>
<line x1="479.0" y1="252.1" x2="478.4" y2="256.4" stroke="#8c8c8c" stroke-width="2.6" stroke-linecap="round"/>
<line x1="479.0" y1="252.1" x2="478.4" y2="256.4" stroke="#f2f2f2" stroke-width="1.6" stroke-linecap="round"/>
<line x1="508.0" y1="217.5" x2="509.8" y2="212.0" stroke="#22cdd4" stroke-width="3.9" stroke-linecap="round"/>
<line x1="509.8" y1="212.0" x2="511.5" y2="206.5" stroke="#2230dd" stroke-width="3.9" stroke-linecap="round"/>
<line x1="508.0" y1="217.5" x2="509.8" y2="212.0" stroke="#62eaee" stroke-width="1.638" stroke-linecap="round"/>
<line x1="509.8" y1="212.0" x2="511.5" y2="206.5" stroke="#5060f5" stroke-width="1.638" stroke-linecap="round"/>
<line x1="508.0" y1="217.5" x2="520.0" y2="227.0" stroke="#22cdd4" stroke-width="4.3" stroke-linecap="round"/>
<line x1="508.0" y1="217.5" x2="520.0" y2="227.0" stroke="#62eaee" stroke-width="1.8059999999999998" stroke-linecap="round"/>
<line x1="520.0" y1="227.0" x2="524.0" y2="224.4" stroke="#22cdd4" stroke-width="4.6" stroke-linecap="round"/>
<line x1="524.0" y1="224.4" x2="530.0" y2="220.5" stroke="#e62e25" stroke-width="4.6" stroke-linecap="round"/>
<line x1="520.0" y1="227.0" x2="524.0" y2="224.4" stroke="#62eaee" stroke-width="1.9319999999999997" stroke-linecap="round"/>
<line x1="524.0" y1="224.4" x2="530.0" y2="220.5" stroke="#fb6257" stroke-width="1.9319999999999997" stroke-linecap="round"/>
<line x1="500.0" y1="217.5" x2="504.0" y2="217.5" stroke="#1f8f93" stroke-width="4.3" stroke-linecap="round"/>
<line x1="504.0" y1="217.5" x2="508.0" y2="217.5" stroke="#22cdd4" stroke-width="4.3" stroke-linecap="round"/>
<line x1="500.0" y1="217.5" x2="504.0" y2="217.5" stroke="#2aaeb3" stroke-width="1.8059999999999998" stroke-linecap="round"/>
<line x1="504.0" y1="217.5" x2="508.0" y2="217.5" stroke="#62eaee" stroke-width="1.8059999999999998" stroke-linecap="round"/>
<line x1="492.0" y1="226.0" x2="496.0" y2="221.8" stroke="#22cdd4" stroke-width="4.3" stroke-linecap="round"/>
<line x1="496.0" y1="221.8" x2="500.0" y2="217.5" stroke="#1f8f93" stroke-width="4.3" stroke-linecap="round"/>
<line x1="492.0" y1="226.0" x2="496.0" y2="221.8" stroke="#62eaee" stroke-width="1.8059999999999998" stroke-linecap="round"/>
<line x1="496.0" y1="221.8" x2="500.0" y2="217.5" stroke="#2aaeb3" stroke-width="1.8059999999999998" stroke-linecap="round"/>
<line x1="480.3" y1="224.0" x2="492.0" y2="226.0" stroke="#22cdd4" stroke-width="4.3" stroke-linecap="round"/>
<line x1="480.3" y1="224.0" x2="492.0" y2="226.0" stroke="#62eaee" stroke-width="1.8059999999999998" stroke-linecap="round"/>
<line x1="480.3" y1="224.0" x2="475.4" y2="226.7" stroke="#22cdd4" stroke-width="3.9" stroke-linecap="round"/>
<line x1="475.4" y1="226.7" x2="470.5" y2="229.4" stroke="#2230dd" stroke-width="3.9" stroke-linecap="round"/>
<line x1="480.3" y1="224.0" x2="475.4" y2="226.7" stroke="#62eaee" stroke-width="1.638" stroke-linecap="round"/>
<line x1="475.4" y1="226.7" x2="470.5" y2="229.4" stroke="#5060f5" stroke-width="1.638" stroke-linecap="round"/>
<line x1="470.5" y1="229.4" x2="471.6" y2="235.4" stroke="#2230dd" stroke-width="3.9" stroke-linecap="round"/>
<line x1="471.6" y1="235.4" x2="472.0" y2="238.0" stroke="#22cdd4" stroke-width="3.9" stroke-linecap="round"/>
<line x1="470.5" y1="229.4" x2="471.6" y2="235.4" stroke="#5060f5" stroke-width="1.638" stroke-linecap="round"/>
<line x1="471.6" y1="235.4" x2="472.0" y2="238.0" stroke="#62eaee" stroke-width="1.638" stroke-linecap="round"/>
<line x1="472.0" y1="238.0" x2="469.0" y2="240.5" stroke="#22cdd4" stroke-width="3.9" stroke-linecap="round"/>
<line x1="469.0" y1="240.5" x2="460.0" y2="248.0" stroke="#2230dd" stroke-width="3.9" stroke-linecap="round"/>
<line x1="472.0" y1="238.0" x2="469.0" y2="240.5" stroke="#62eaee" stroke-width="1.638" stroke-linecap="round"/>
<line x1="469.0" y1="240.5" x2="460.0" y2="248.0" stroke="#5060f5" stroke-width="1.638" stroke-linecap="round"/>
<line x1="472.0" y1="238.0" x2="473.5" y2="240.4" stroke="#22cdd4" stroke-width="4.6" stroke-linecap="round"/>
<line x1="473.5" y1="240.4" x2="479.4" y2="249.8" stroke="#2230dd" stroke-width="4.6" stroke-linecap="round"/>
<line x1="472.0" y1="238.0" x2="473.5" y2="240.4" stroke="#62eaee" stroke-width="1.9319999999999997" stroke-linecap="round"/>
<line x1="473.5" y1="240.4" x2="479.4" y2="249.8" stroke="#5060f5" stroke-width="1.9319999999999997" stroke-linecap="round"/>
</g>
<rect x="478.4" y="19.3" width="10.1" height="5.5" fill="#ffee00"/>
<text x="483.4" y="23.8" font-size="4.8" fill="#3a3a20" text-anchor="middle">O3'</text>
<rect x="500" y="31.2" width="9.6" height="5.5" fill="#ffee00"/>
<text x="504.8" y="35.7" font-size="4.8" fill="#3a3a20" text-anchor="middle">C5'</text>
<rect x="508.3" y="38" width="10.0" height="6.0" fill="#ffee00"/>
<text x="513.3" y="42.7" font-size="4.8" fill="#3a3a20" text-anchor="middle">O5'</text>
<rect x="522.8" y="35.4" width="4.4" height="5.3" fill="#ffee00"/>
<text x="525.0" y="39.8" font-size="4.8" fill="#3a3a20" text-anchor="middle">P</text>
<rect x="479.4" y="57.4" width="9.5" height="6.5" fill="#22ee22"/>
<text x="484.1" y="62.4" font-size="4.8" fill="#3a3a20" text-anchor="middle">N1</text>
<rect x="469.8" y="64.4" width="8.6" height="5.9" fill="#22ee22"/>
<text x="474.1" y="69.0" font-size="4.8" fill="#3a3a20" text-anchor="middle">C2</text>
<rect x="491.3" y="63" width="8.2" height="5.8" fill="#22ee22"/>
<text x="495.4" y="67.6" font-size="4.8" fill="#3a3a20" text-anchor="middle">C6</text>
<rect x="471.1" y="75.8" width="8.3" height="5.9" fill="#22ee22"/>
<text x="475.2" y="80.5" font-size="4.8" fill="#3a3a20" text-anchor="middle">N3</text>
<rect x="492.8" y="74.9" width="7.7" height="5.5" fill="#22ee22"/>
<text x="496.6" y="79.4" font-size="4.8" fill="#3a3a20" text-anchor="middle">C5</text>
<rect x="482.1" y="81.3" width="8.3" height="5.5" fill="#22ee22"/>
<text x="486.2" y="85.8" font-size="4.8" fill="#3a3a20" text-anchor="middle">C4</text>
<text x="518.8" y="79.4" font-size="10" fill="#111" text-anchor="middle">U</text>
<rect x="485.2" y="116" width="9.8" height="6.0" fill="#ffee00"/>
<text x="490.1" y="120.7" font-size="4.8" fill="#3a3a20" text-anchor="middle">O3'</text>
<rect x="515.1" y="129.3" width="9.2" height="5.5" fill="#ffee00"/>
<text x="519.7" y="133.8" font-size="4.8" fill="#3a3a20" text-anchor="middle">O5'</text>
<rect x="526.1" y="127.8" width="4.6" height="5.5" fill="#ffee00"/>
<text x="528.4" y="132.2" font-size="4.8" fill="#3a3a20" text-anchor="middle">P</text>
<rect x="507.4" y="138" width="8.6" height="6.0" fill="#ffee00"/>
<text x="511.7" y="142.7" font-size="4.8" fill="#3a3a20" text-anchor="middle">C5'</text>
<rect x="457.4" y="151.8" width="8.3" height="6.0" fill="#22ee22"/>
<text x="461.5" y="156.5" font-size="4.8" fill="#3a3a20" text-anchor="middle">N3</text>
<rect x="476.1" y="151.4" width="8.9" height="6.1" fill="#22ee22"/>
<text x="480.6" y="156.1" font-size="4.8" fill="#3a3a20" text-anchor="middle">N9</text>
<rect x="467.2" y="157" width="8.2" height="5.4" fill="#22ee22"/>
<text x="471.3" y="161.4" font-size="4.8" fill="#3a3a20" text-anchor="middle">C4</text>
<rect x="449.2" y="158.8" width="8.2" height="6.0" fill="#22ee22"/>
<text x="453.3" y="163.5" font-size="4.8" fill="#3a3a20" text-anchor="middle">C2</text>
<rect x="483.5" y="160.6" width="7.9" height="5.5" fill="#22ee22"/>
<text x="487.4" y="165.0" font-size="4.8" fill="#3a3a20" text-anchor="middle">C8</text>
<rect x="467.9" y="168" width="7.9" height="5.4" fill="#22ee22"/>
<text x="471.9" y="172.4" font-size="4.8" fill="#3a3a20" text-anchor="middle">C5</text>
<rect x="478.2" y="169.2" width="8.6" height="6.1" fill="#22ee22"/>
<text x="482.5" y="173.9" font-size="4.8" fill="#3a3a20" text-anchor="middle">N7</text>
<rect x="448.6" y="169.8" width="8.3" height="5.8" fill="#22ee22"/>
<text x="452.8" y="174.4" font-size="4.8" fill="#3a3a20" text-anchor="middle">N1</text>
<rect x="458.3" y="174.4" width="8.3" height="5.5" fill="#22ee22"/>
<text x="462.5" y="178.8" font-size="4.8" fill="#3a3a20" text-anchor="middle">C6</text>
<text x="518.6" y="170.3" font-size="10" fill="#111" text-anchor="middle">A</text>
<rect x="512" y="200" width="5.0" height="6.0" fill="#ffee00"/>
<text x="514.5" y="204.7" font-size="4.8" fill="#3a3a20" text-anchor="middle">N</text>
<rect x="507.8" y="211.1" width="8.2" height="6.1" fill="#ffee00"/>
<text x="511.9" y="215.8" font-size="4.8" fill="#3a3a20" text-anchor="middle">CA</text>
<rect x="528.9" y="213.9" width="4.6" height="6.0" fill="#ffee00"/>
<text x="531.2" y="218.6" font-size="4.8" fill="#3a3a20" text-anchor="middle">O</text>
<rect x="519.7" y="219.4" width="4.3" height="5.8" fill="#ffee00"/>
<text x="521.9" y="224.0" font-size="4.8" fill="#3a3a20" text-anchor="middle">C</text>
<rect x="470.2" y="223.6" width="9.2" height="5.8" fill="#22ee22"/>
<text x="474.8" y="228.2" font-size="4.8" fill="#3a3a20" text-anchor="middle">NE</text>
<rect x="470.6" y="235" width="8.4" height="5.6" fill="#22ee22"/>
<text x="474.8" y="239.5" font-size="4.8" fill="#3a3a20" text-anchor="middle">CZ</text>
<rect x="461.4" y="240.3" width="10.6" height="5.8" fill="#22ee22"/>
<text x="466.7" y="244.9" font-size="4.8" fill="#3a3a20" text-anchor="middle">NH1</text>
<rect x="479.4" y="241.1" width="11.0" height="5.6" fill="#22ee22"/>
<text x="484.9" y="245.6" font-size="4.8" fill="#3a3a20" text-anchor="middle">NH2</text>
<text x="519.2" y="248.5" font-size="10" fill="#111" text-anchor="middle">R</text>
<rect x="463" y="269.4" width="4.6" height="4.6" fill="#22ee22"/>
<text x="472.4" y="274.1" font-size="8.6" fill="#222">core atoms</text>
<rect x="463" y="279.4" width="4.6" height="4.6" fill="#ffee00"/>
<text x="472.4" y="285" font-size="8.6" fill="#222">backbone atoms</text>
</svg>
</body></html>
